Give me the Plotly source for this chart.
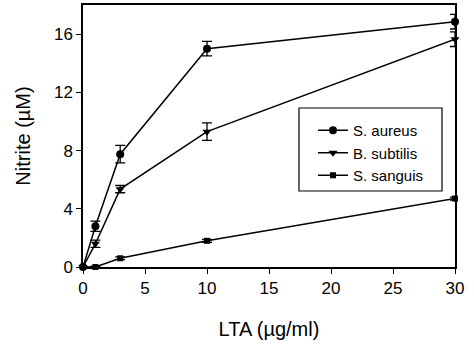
import plotly.graph_objects as go

lta = [0, 1, 3, 10, 30]
aureus = [0, 2.8, 7.75, 15.0, 16.85]
aureus_err = [0, 0.35, 0.6, 0.5, 0.5]
subtilis = [0, 1.6, 5.35, 9.3, 15.65]
subtilis_err = [0, 0.25, 0.25, 0.6, 0.5]
sanguis = [0, 0, 0.6, 1.8, 4.7]
sanguis_err = [0, 0.05, 0.1, 0.1, 0.1]

series = [
    ("S. aureus", aureus, aureus_err, "circle", 8),
    ("B. subtilis", subtilis, subtilis_err, "triangle-down", 8),
    ("S. sanguis", sanguis, sanguis_err, "square", 6),
]

fig = go.Figure()
for name, y, err, sym, size in series:
    fig.add_trace(go.Scatter(
        x=lta, y=y, name=name, mode="lines+markers",
        line=dict(color="black", width=1.5),
        marker=dict(symbol=sym, size=size, color="black"),
        error_y=dict(type="data", array=err, visible=True, color="black",
                     thickness=1.3, width=5),
        cliponaxis=False,
    ))

font = "Liberation Sans, Arial, sans-serif"
fig.update_layout(
    width=474, height=355,
    margin=dict(l=83, r=19, t=5, b=88, autoexpand=False),
    plot_bgcolor="white", paper_bgcolor="white",
    font=dict(family=font, color="black", size=17),
    showlegend=True,
    legend=dict(x=(313-83)/372, y=(267-114)/262, xanchor="left", yanchor="top",
                bgcolor="rgba(0,0,0,0)", borderwidth=0,
                font=dict(size=15, family=font), tracegroupgap=0,
                itemwidth=30),
    shapes=[dict(type="rect", xref="paper", yref="paper",
                 x0=(299-83)/372, x1=(442-83)/372,
                 y0=(267-191)/262, y1=(267-108)/262,
                 line=dict(color="black", width=1.2), fillcolor="rgba(0,0,0,0)")],
)
fig.update_xaxes(
    range=[0, 30], tickvals=[0, 5, 10, 15, 20, 25, 30],
    ticks="outside", ticklen=5, tickwidth=1.2, tickcolor="black",
    showline=True, linecolor="black", linewidth=1.5, mirror=True,
    showgrid=False, zeroline=False, automargin=False,
    title=dict(text="LTA (µg/ml)", font=dict(size=20), standoff=25),
    tickfont=dict(size=17),
)
fig.update_yaxes(
    range=[0, 18], tickvals=[0, 4, 8, 12, 16],
    ticks="outside", ticklen=5, tickwidth=1.2, tickcolor="black",
    showline=True, linecolor="black", linewidth=1.5, mirror=True,
    showgrid=False, zeroline=False, automargin=False,
    title=dict(text="Nitrite (µM)", font=dict(size=20), standoff=18),
    tickfont=dict(size=17),
)
fig.write_html("out.html", config={"displayModeBar": False},
               post_script="document.body.style.margin='0';")
